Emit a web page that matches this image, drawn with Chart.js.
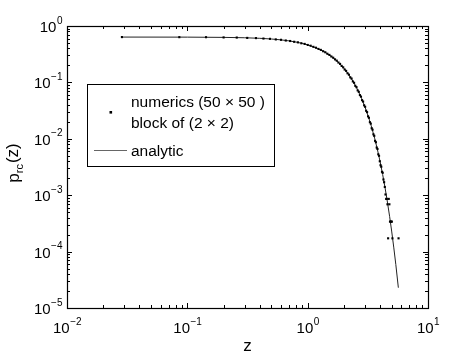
<!DOCTYPE html>
<html>
<head>
<meta charset="utf-8">
<script src="https://cdn.jsdelivr.net/npm/chart.js@4/dist/chart.umd.min.js"></script>
<style>
html,body{margin:0;padding:0;background:#fff;}
canvas{display:block;}
</style>
</head>
<body>
<canvas id="c" width="474" height="355"></canvas>
<script>
// numerics: bin centres and values (null = empty bin, not shown on log axis)
const zNum = [0.0286,0.0858,0.1430,0.2002,0.2574,0.3146,0.3718,0.4290,0.4862,0.5434,
0.6006,0.6578,0.7150,0.7722,0.8294,0.8866,0.9438,1.0010,1.0582,1.1154,
1.1726,1.2298,1.2870,1.3442,1.4014,1.4586,1.5158,1.5730,1.6302,1.6874,
1.7446,1.8018,1.8590,1.9162,1.9734,2.0306,2.0878,2.1450,2.2022,2.2594,
2.3166,2.3738,2.4310,2.4882,2.5454,2.6026,2.6598,2.7170,2.7742,2.8314,
2.8886,2.9458,3.0030,3.0602,3.1174,3.1746,3.2318,3.2890,3.3462,3.4034,
3.4606,3.5178,3.5750,3.6322,3.6894,3.7466,3.8038,3.8610,3.9182,3.9754,
4.0326,4.0898,4.1470,4.2042,4.2614,4.3186,4.3758,4.4330,4.4902,4.5474,
4.6046,4.6618,4.7190,4.7762,4.8334,4.8906,4.9478,5.0050,5.0622,5.1194,
5.1766,5.2338,5.2910,5.3482,5.4054,5.4626,5.5198,5.5770,5.6342,5.6914];
const pNum = [0.636,0.634,0.633,0.627,0.624,0.615,0.610,0.599,0.592,0.578,
0.569,0.553,0.542,0.525,0.513,0.494,0.481,0.461,0.447,0.427,
0.412,0.392,0.377,0.357,0.342,0.322,0.307,0.288,0.274,0.256,
0.243,0.225,0.213,0.196,0.185,0.169,0.160,0.145,0.137,0.123,
0.117,0.104,0.0985,0.0870,0.0823,0.0722,0.0681,0.0595,0.0560,0.0484,
0.0458,0.0392,0.0370,0.0314,0.0297,0.0250,0.0236,0.0197,0.0186,0.0154,
0.0145,0.0120,0.0113,0.0092,0.0087,0.0070,0.0066,0.0053,0.0050,0.0040,
0.0034,0.0032,0.0026,0.0025,0.0019,0.0017,0.0014,0.00103,0.00086,0.00086,
0.00069,0.000172,0.00086,0.00069,0.00034,0.00034,0.00034,0.00034,0.000172,null,
null,null,null,null,null,null,null,null,null,0.000172];
// analytic curve
const zLine = [0.0286,0.1,0.2,0.3,0.4,0.5,0.6,0.7,0.8,0.9,1.0,1.2,1.4,1.6,1.8,2.0,2.2,2.4,2.6,2.8,
3.0,3.2,3.4,3.6,3.8,4.0,4.2,4.4,4.6,4.8,5.0,5.2,5.4,5.67];
const pLine = [0.6364,0.6346,0.6285,0.6186,0.6050,0.5879,0.5677,0.5447,0.5192,0.4919,0.4632,0.4025,0.3412,0.2818,0.2270,0.1782,0.1364,0.1018,0.07404,0.05250,
0.03628,0.02446,0.01606,0.01029,0.006424,0.003910,0.002319,0.001341,0.000756,0.000416,0.000223,0.0001164,0.0000593,0.0000229];
const xTickExp = [-2,-1,0,1];
const yTickExp = [-5,-4,-3,-2,-1,0];
const legendLines = ['numerics (50 \u00d7 50 )','block of (2 \u00d7 2)','analytic'];
const xTitle = 'z';

const FONT = '"Liberation Sans", Arial, Helvetica, sans-serif';

const numData = [];
zNum.forEach((z,i)=>{ if(pNum[i]!==null) numData.push({x:z,y:pNum[i]}); });
const lineData = zLine.map((z,i)=>({x:z,y:pLine[i]}));

function drawPow(ctx, e, x, y, mode){
  const base='10', ex=(e<0?'\u2212':'')+Math.abs(e);
  ctx.font='15px '+FONT; const wb=ctx.measureText(base).width;
  ctx.font='10px '+FONT; const we=ctx.measureText(ex).width;
  let x0;
  if(mode==='x'){ x0 = x-(wb+we)/2; }
  else { x0 = x-(wb+we); }
  ctx.fillStyle='#000'; ctx.textAlign='left'; ctx.textBaseline='alphabetic';
  ctx.font='15px '+FONT;
  const by = mode==='x' ? y : y+6;
  ctx.fillText(base,x0,by);
  ctx.font='10px '+FONT;
  ctx.fillText(ex,x0+wb+0.5,by-8.5);
}

const deco = {
  id:'deco',
  afterDatasetsDraw(chart){
    const ctx=chart.ctx, a=chart.chartArea, xs=chart.scales.x, ys=chart.scales.y;
    ctx.save();
    ctx.strokeStyle='#000'; ctx.lineWidth=1.2;
    // box
    ctx.strokeRect(Math.round(a.left)+0.5,Math.round(a.top)+0.5,Math.round(a.right-a.left),Math.round(a.bottom-a.top));
    ctx.lineWidth=1;
    // ticks
    ctx.beginPath();
    for(let e=-2;e<1;e++){
      for(let m=1;m<=9;m++){
        const v=m*Math.pow(10,e); const px=Math.round(xs.getPixelForValue(v))+0.5;
        const L = m===1?5:3;
        ctx.moveTo(px,a.bottom); ctx.lineTo(px,a.bottom-L);
        ctx.moveTo(px,a.top); ctx.lineTo(px,a.top+L);
      }
    }
    for(let e=-5;e<0;e++){
      for(let m=1;m<=9;m++){
        const v=m*Math.pow(10,e); const py=Math.round(ys.getPixelForValue(v))+0.5;
        const L = m===1?5:3;
        ctx.moveTo(a.left,py); ctx.lineTo(a.left+L,py);
        ctx.moveTo(a.right,py); ctx.lineTo(a.right-L,py);
      }
    }
    ctx.stroke();
    // tick labels
    xTickExp.forEach(e=>drawPow(ctx,e,xs.getPixelForValue(Math.pow(10,e)),333,'x'));
    yTickExp.forEach(e=>drawPow(ctx,e,62,ys.getPixelForValue(Math.pow(10,e)),'y'));
    // axis titles
    ctx.fillStyle='#000';
    ctx.font='17px '+FONT; ctx.textAlign='center'; ctx.textBaseline='alphabetic';
    ctx.fillText(xTitle,(a.left+a.right)/2,350.5);
    // y title p_rc(z) rotated
    ctx.save();
    ctx.translate(19,163); ctx.rotate(-Math.PI/2);
    ctx.font='17px '+FONT; const wp=ctx.measureText('p').width;
    ctx.font='11px '+FONT; const wr=ctx.measureText('rc').width;
    ctx.font='17px '+FONT; const wz=ctx.measureText('(z)').width;
    const tot=wp+wr+wz+1; let sx=-tot/2;
    ctx.textAlign='left';
    ctx.font='17px '+FONT; ctx.fillText('p',sx,0); sx+=wp;
    ctx.font='11px '+FONT; ctx.fillText('rc',sx,4); sx+=wr+1;
    ctx.font='17px '+FONT; ctx.fillText('(z)',sx,-1);
    ctx.restore();
    // legend
    ctx.fillStyle='#fff';
    ctx.fillRect(87.5,84.5,187,82);
    ctx.strokeStyle='#000'; ctx.lineWidth=1;
    ctx.strokeRect(87.5,84.5,187,82);
    ctx.fillStyle='#000';
    ctx.fillRect(109.5,111,2.6,2.6);
    ctx.strokeStyle='#666'; ctx.beginPath(); ctx.moveTo(94,150.5); ctx.lineTo(127,150.5); ctx.stroke();
    ctx.font='15.5px '+FONT; ctx.textAlign='left'; ctx.fillStyle='#000';
    ctx.fillText(legendLines[0],131,107.3);
    ctx.fillText(legendLines[1],131,128.3);
    ctx.fillText(legendLines[2],131,156);
    ctx.restore();
  }
};

new Chart(document.getElementById('c'),{
  type:'scatter',
  data:{datasets:[
    {label:'analytic',data:lineData,showLine:true,borderColor:'#222',borderWidth:1,pointRadius:0,tension:0,order:2},
    {label:'numerics',data:numData,showLine:false,pointStyle:'rect',pointRadius:1.5,pointBackgroundColor:'#000',pointBorderWidth:0,borderColor:'#000',order:1}
  ]},
  options:{
    responsive:false, animation:false, devicePixelRatio:1,
    layout:{padding:{left:67,right:46,top:26,bottom:47}},
    plugins:{legend:{display:false},tooltip:{enabled:false}},
    scales:{
      x:{type:'logarithmic',min:0.01,max:10,display:false},
      y:{type:'logarithmic',min:1e-5,max:1,display:false}
    }
  },
  plugins:[deco]
});
</script>
</body>
</html>
